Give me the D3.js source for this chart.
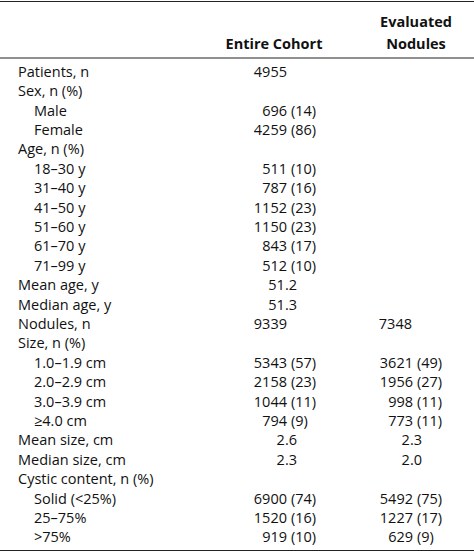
<!DOCTYPE html>
<head>
  <meta charset="utf-8">
  <script src="https://cdn.jsdelivr.net/npm/d3@7/dist/d3.min.js"></script>
  <style>
    body { margin:0; background:#fff; }
    text { font-family: "Open Sans", "DejaVu Sans", sans-serif; font-size: 14.5px; fill:#111; }
    .hd { font-weight: bold; }
  </style>
</head>
<body>
<svg width="474" height="552"></svg>
<script>
  // rows of the table
  var labels = ["Patients, n","Sex, n (%)","Male","Female","Age, n (%)","18\u201330 y","31\u201340 y","41\u201350 y","51\u201360 y","61\u201370 y","71\u201399 y","Mean age, y","Median age, y","Nodules, n","Size, n (%)","1.0\u20131.9 cm","2.0\u20132.9 cm","3.0\u20133.9 cm","\u22654.0 cm","Mean size, cm","Median size, cm","Cystic content, n (%)","Solid (<25%)","25\u201375%",">75%"];
  var indented = [0,0,1,1,0,1,1,1,1,1,1,0,0,0,0,1,1,1,1,0,0,0,1,1,1];
  var entireN = ["4955","","696","4259","","511","787","1152","1150","843","512","51.2","51.3","9339","","5343","2158","1044","794","2.6","2.3","","6900","1520","919"];
  var entireP = ["","","(14)","(86)","","(10)","(16)","(23)","(23)","(17)","(10)","","","","","(57)","(23)","(11)","(9)","","","","(74)","(16)","(10)"];
  var evalN = ["","","","","","","","","","","","","","7348","","3621","1956","998","773","2.3","2.0","","5492","1227","629"];
  var evalP = ["","","","","","","","","","","","","","","","(49)","(27)","(11)","(11)","","","","(75)","(17)","(9)"];

  var svg = d3.select("svg");
  var y = d3.scaleBand().domain(d3.range(labels.length)).range([62, 547]);

  [1.5, 58, 550.5].forEach(function (ly) {
    svg.append("line").attr("x1",0).attr("x2",474).attr("y1",ly).attr("y2",ly).attr("stroke","#222").attr("stroke-width",1.2);
  });

  svg.append("text").attr("class","hd").attr("x",274).attr("y",49).attr("text-anchor","middle").text("Entire Cohort");
  svg.append("text").attr("class","hd").attr("x",416).attr("y",27).attr("text-anchor","middle").text("Evaluated");
  svg.append("text").attr("class","hd").attr("x",416).attr("y",49).attr("text-anchor","middle").text("Nodules");

  var rows = svg.selectAll("g.row").data(labels).enter().append("g")
    .attr("transform", function (d, i) { return "translate(0," + (y(i) + y.bandwidth()*0.5 + 5) + ")"; });

  rows.append("text").attr("x", function (d, i) { return indented[i] ? 34 : 18; }).text(function (d) { return d; });

  function numX(v, base) { return v.indexOf(".") >= 0 ? base + 10 : base; }
  rows.append("text").attr("text-anchor","end")
    .attr("x", function (d, i) { return entireP[i] ? 287 : numX(entireN[i], 287); })
    .text(function (d, i) { return entireN[i]; });
  rows.append("text").attr("x", 291).text(function (d, i) { return entireP[i]; });
  rows.append("text").attr("text-anchor","end")
    .attr("x", function (d, i) { return evalP[i] ? 413 : numX(evalN[i], 412); })
    .text(function (d, i) { return evalN[i]; });
  rows.append("text").attr("x", 417).text(function (d, i) { return evalP[i]; });
</script>
</body>
